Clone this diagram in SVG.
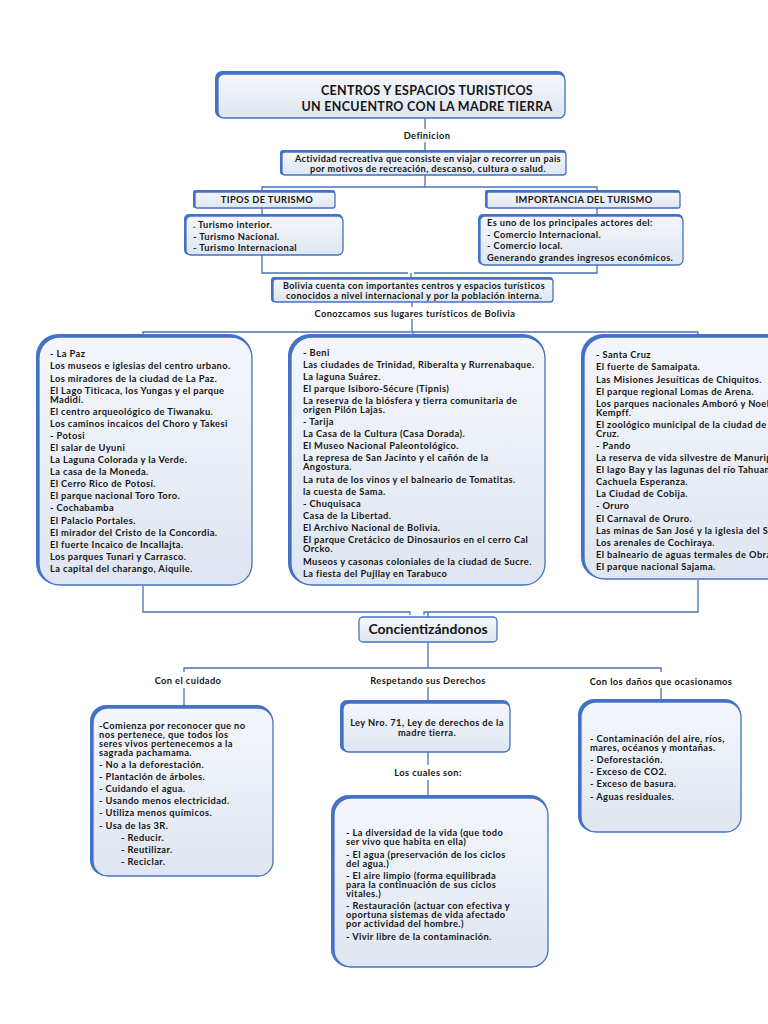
<svg xmlns="http://www.w3.org/2000/svg" width="768" height="1024" viewBox="0 0 768 1024">
<defs>
<linearGradient id="g" x1="0" y1="0" x2="0" y2="1">
<stop offset="0" stop-color="#f4f6fb"/>
<stop offset="1" stop-color="#dfe6f1"/>
</linearGradient>
</defs>
<style>
.sh{fill:#4472c4}
.bx{fill:url(#g);stroke:#4472c4;stroke-width:1.3}
.t{font-family:Lato,"Open Sans","Liberation Sans",sans-serif;font-size:9.3px;letter-spacing:0.4px;font-weight:bold;fill:#151515}
.m{text-anchor:middle}
.h{font-family:Lato,"Open Sans","Liberation Sans",sans-serif;font-size:12.5px;letter-spacing:0.3px;font-weight:bold;fill:#151515;text-anchor:middle}
.k{font-family:Lato,"Open Sans","Liberation Sans",sans-serif;font-size:14px;font-weight:bold;fill:#151515;text-anchor:middle}
.c{fill:none;stroke:#4a72b5;stroke-width:1.3}
</style>
<rect width="768" height="1024" fill="#ffffff"/>

<g id="connectors">
<path class="c" d="M425 118V129M425 142V152"/>
<path class="c" d="M425 175V187M262 192V187H597V192"/>
<path class="c" d="M262 208V216M597 208V216"/>
<path class="c" d="M262 255V273H408M597 265V273H414M411 273V279"/>
<path class="c" d="M412 302V307M412 319V332"/>
<path class="c" d="M143 337V332H698V337M413 332V337"/>
<path class="c" d="M143 586V612H410V615M698 580V612H424V615M428 612V617"/>
<path class="c" d="M428 642V668M184 672V668H661V672"/>
<path class="c" d="M184 688V707M428 687V702M661 688V701"/>
<path class="c" d="M428 752V765M428 780V797"/>
</g>

<g id="title">
<rect class="sh" x="215" y="71" width="350" height="47" rx="7"/>
<rect class="bx" x="218" y="74" width="347" height="44" rx="6"/>
<text class="h" x="427" y="95">CENTROS Y ESPACIOS TURISTICOS</text>
<text class="h" x="427" y="111">UN ENCUENTRO CON LA MADRE TIERRA</text>
</g>

<g id="lbl-definicion"><text class="t m" x="427" y="139">Definicion</text></g>

<g id="definicion">
<rect class="sh" x="280" y="150" width="286" height="25" rx="3"/>
<rect class="bx" x="282" y="152" width="284" height="23" rx="3"/>
<text class="t m" x="428" y="162" textLength="266" lengthAdjust="spacingAndGlyphs">Actividad recreativa que consiste en viajar o recorrer un pais</text>
<text class="t m" x="428" y="172" textLength="236" lengthAdjust="spacingAndGlyphs">por motivos de recreación, descanso, cultura o salud.</text>
</g>

<g id="tipos">
<rect class="sh" x="193" y="190" width="142" height="18" rx="2"/>
<rect class="bx" x="195" y="192" width="140" height="16" rx="2"/>
<text class="t m" x="267" y="203">TIPOS DE TURISMO</text>
</g>

<g id="importancia">
<rect class="sh" x="485" y="190" width="195" height="18" rx="2"/>
<rect class="bx" x="487" y="192" width="193" height="16" rx="2"/>
<text class="t m" x="584" y="203">IMPORTANCIA DEL TURISMO</text>
</g>

<g id="tipos-lista">
<rect class="sh" x="184" y="214" width="159" height="41" rx="5"/>
<rect class="bx" x="186" y="216" width="157" height="39" rx="5"/>
<text class="t" x="193" y="228">. Turismo interior.</text>
<text class="t" x="193" y="240">- Turismo Nacional.</text>
<text class="t" x="193" y="251">- Turismo Internacional</text>
</g>

<g id="importancia-lista">
<rect class="sh" x="478" y="214" width="205" height="51" rx="5"/>
<rect class="bx" x="480" y="216" width="203" height="49" rx="5"/>
<text class="t" x="487" y="226">Es uno de los principales actores del:</text>
<text class="t" x="487" y="238">- Comercio Internacional.</text>
<text class="t" x="487" y="249">- Comercio local.</text>
<text class="t" x="487" y="261">Generando grandes ingresos económicos.</text>
</g>

<g id="bolivia">
<rect class="sh" x="271" y="277" width="282" height="25" rx="3"/>
<rect class="bx" x="273" y="279" width="280" height="23" rx="3"/>
<text class="t m" x="414" y="289" textLength="262" lengthAdjust="spacingAndGlyphs">Bolivia cuenta con importantes centros y espacios turísticos</text>
<text class="t m" x="414" y="299" textLength="256" lengthAdjust="spacingAndGlyphs">conocidos a nivel internacional y por la población interna.</text>
</g>

<g id="lbl-conozcamos"><text class="t m" x="415" y="317">Conozcamos sus lugares turísticos de Bolivia</text></g>

<g id="lapaz">
<rect class="sh" x="36" y="334" width="216" height="251" rx="22"/>
<rect class="bx" x="39" y="337" width="213" height="248" rx="21"/>
<text class="t" x="50" y="357">- La Paz</text>
<text class="t" x="50" y="369">Los museos e iglesias del centro urbano.</text>
<text class="t" x="50" y="382">Los miradores de la ciudad de La Paz.</text>
<text class="t" x="50" y="394">El Lago Titicaca, los Yungas y el parque</text>
<text class="t" x="50" y="403">Madidi.</text>
<text class="t" x="50" y="415">El centro arqueológico de Tiwanaku.</text>
<text class="t" x="50" y="427">Los caminos incaicos del Choro y Takesi</text>
<text class="t" x="50" y="439">- Potosi</text>
<text class="t" x="50" y="451">El salar de Uyuni</text>
<text class="t" x="50" y="463">La Laguna Colorada y la Verde.</text>
<text class="t" x="50" y="475">La casa de la Moneda.</text>
<text class="t" x="50" y="487">El Cerro Rico de Potosí.</text>
<text class="t" x="50" y="499">El parque nacional Toro Toro.</text>
<text class="t" x="50" y="511">- Cochabamba</text>
<text class="t" x="50" y="524">El Palacio Portales.</text>
<text class="t" x="50" y="536">El mirador del Cristo de la Concordia.</text>
<text class="t" x="50" y="548">El fuerte Incaico de Incallajta.</text>
<text class="t" x="50" y="560">Los parques Tunari y Carrasco.</text>
<text class="t" x="50" y="572">La capital del charango, Aiquile.</text>
</g>

<g id="beni">
<rect class="sh" x="288" y="334" width="257" height="251" rx="22"/>
<rect class="bx" x="291" y="337" width="254" height="248" rx="21"/>
<text class="t" x="303" y="356">- Beni</text>
<text class="t" x="303" y="368">Las ciudades de Trinidad, Riberalta y Rurrenabaque.</text>
<text class="t" x="303" y="380">La laguna Suárez.</text>
<text class="t" x="303" y="392">El parque Isiboro-Sécure (Tipnis)</text>
<text class="t" x="303" y="404">La reserva de la biósfera y tierra comunitaria de</text>
<text class="t" x="303" y="413">origen Pilón Lajas.</text>
<text class="t" x="303" y="425">- Tarija</text>
<text class="t" x="303" y="437">La Casa de la Cultura (Casa Dorada).</text>
<text class="t" x="303" y="449">El Museo Nacional Paleontológico.</text>
<text class="t" x="303" y="461">La represa de San Jacinto y el cañón de la</text>
<text class="t" x="303" y="470">Angostura.</text>
<text class="t" x="303" y="483">La ruta de los vinos y el balneario de Tomatitas.</text>
<text class="t" x="303" y="495">la cuesta de Sama.</text>
<text class="t" x="303" y="507">- Chuquisaca</text>
<text class="t" x="303" y="519">Casa de la Libertad.</text>
<text class="t" x="303" y="531">El Archivo Nacional de Bolivia.</text>
<text class="t" x="303" y="543">El parque Cretácico de Dinosaurios en el cerro Cal</text>
<text class="t" x="303" y="552">Orcko.</text>
<text class="t" x="303" y="565">Museos y casonas coloniales de la ciudad de Sucre.</text>
<text class="t" x="303" y="577">La fiesta del Pujllay en Tarabuco</text>
</g>

<g id="santacruz">
<rect class="sh" x="581" y="334" width="232" height="245" rx="22"/>
<rect class="bx" x="584" y="337" width="229" height="242" rx="21"/>
<text class="t" x="596" y="358">- Santa Cruz</text>
<text class="t" x="596" y="370">El fuerte de Samaipata.</text>
<text class="t" x="596" y="383">Las Misiones Jesuíticas de Chiquitos.</text>
<text class="t" x="596" y="395">El parque regional Lomas de Arena.</text>
<text class="t" x="596" y="407">Los parques nacionales Amboró y Noel</text>
<text class="t" x="596" y="416">Kempff.</text>
<text class="t" x="596" y="428">El zoológico municipal de la ciudad de Santa</text>
<text class="t" x="596" y="437">Cruz.</text>
<text class="t" x="596" y="449">- Pando</text>
<text class="t" x="596" y="461">La reserva de vida silvestre de Manuripi.</text>
<text class="t" x="596" y="473">El lago Bay y las lagunas del río Tahuamanu.</text>
<text class="t" x="596" y="485">Cachuela Esperanza.</text>
<text class="t" x="596" y="497">La Ciudad de Cobija.</text>
<text class="t" x="596" y="509">- Oruro</text>
<text class="t" x="596" y="522">El Carnaval de Oruro.</text>
<text class="t" x="596" y="534">Las minas de San José y la iglesia del Socavón.</text>
<text class="t" x="596" y="546">Los arenales de Cochiraya.</text>
<text class="t" x="596" y="558">El balneario de aguas termales de Obrajes.</text>
<text class="t" x="596" y="570">El parque nacional Sajama.</text>
</g>

<g id="concientizandonos">
<rect class="bx" x="359" y="617" width="138" height="25" rx="4"/>
<text class="k" x="428" y="634">Concientizándonos</text>
</g>

<g id="lbl-cuidado"><text class="t m" x="188" y="684">Con el cuidado</text></g>
<g id="lbl-derechos"><text class="t m" x="428" y="684">Respetando sus Derechos</text></g>
<g id="lbl-danos"><text class="t m" x="661" y="685">Con los daños que ocasionamos</text></g>

<g id="cuidado">
<rect class="sh" x="90" y="705" width="183" height="171" rx="16"/>
<rect class="bx" x="93" y="708" width="180" height="168" rx="15"/>
<text class="t" x="99" y="729">-Comienza por reconocer que no</text>
<text class="t" x="99" y="738">nos pertenece, que todos los</text>
<text class="t" x="99" y="747">seres vivos pertenecemos a la</text>
<text class="t" x="99" y="756">sagrada pachamama.</text>
<text class="t" x="99" y="768">- No a la deforestación.</text>
<text class="t" x="99" y="780">- Plantación de árboles.</text>
<text class="t" x="99" y="792">- Cuidando el agua.</text>
<text class="t" x="99" y="804">- Usando menos electricidad.</text>
<text class="t" x="99" y="816">- Utiliza menos químicos.</text>
<text class="t" x="99" y="829">- Usa de las 3R.</text>
<text class="t" x="121" y="841">- Reducir.</text>
<text class="t" x="121" y="853">- Reutilizar.</text>
<text class="t" x="121" y="865">- Reciclar.</text>
</g>

<g id="ley">
<rect class="sh" x="340" y="700" width="170" height="52" rx="7"/>
<rect class="bx" x="343" y="703" width="167" height="49" rx="6"/>
<text class="t m" x="427" y="726">Ley Nro. 71, Ley de derechos de la</text>
<text class="t m" x="427" y="736">madre tierra.</text>
</g>

<g id="lbl-cuales"><text class="t m" x="428" y="776">Los cuales son:</text></g>

<g id="derechos">
<rect class="sh" x="331" y="795" width="217" height="172" rx="18"/>
<rect class="bx" x="334" y="798" width="214" height="169" rx="17"/>
<text class="t" x="346" y="836">- La diversidad de la vida (que todo</text>
<text class="t" x="346" y="845">ser vivo que habita en ella)</text>
<text class="t" x="346" y="858">- El agua (preservación de los ciclos</text>
<text class="t" x="346" y="867">del agua.)</text>
<text class="t" x="346" y="879">- El aire limpio (forma equilibrada</text>
<text class="t" x="346" y="888">para la continuación de sus ciclos</text>
<text class="t" x="346" y="897">vitales.)</text>
<text class="t" x="346" y="909">- Restauración (actuar con efectiva y</text>
<text class="t" x="346" y="918">oportuna sistemas de vida afectado</text>
<text class="t" x="346" y="927">por actividad del hombre.)</text>
<text class="t" x="346" y="940">- Vivir libre de la contaminación.</text>
</g>

<g id="danos">
<rect class="sh" x="578" y="699" width="163" height="133" rx="16"/>
<rect class="bx" x="581" y="702" width="160" height="130" rx="15"/>
<text class="t" x="590" y="742">- Contaminación del aire, ríos,</text>
<text class="t" x="590" y="751">mares, océanos y montañas.</text>
<text class="t" x="590" y="763">- Deforestación.</text>
<text class="t" x="590" y="775">- Exceso de CO2.</text>
<text class="t" x="590" y="787">- Exceso de basura.</text>
<text class="t" x="590" y="800">- Aguas residuales.</text>
</g>
</svg>
